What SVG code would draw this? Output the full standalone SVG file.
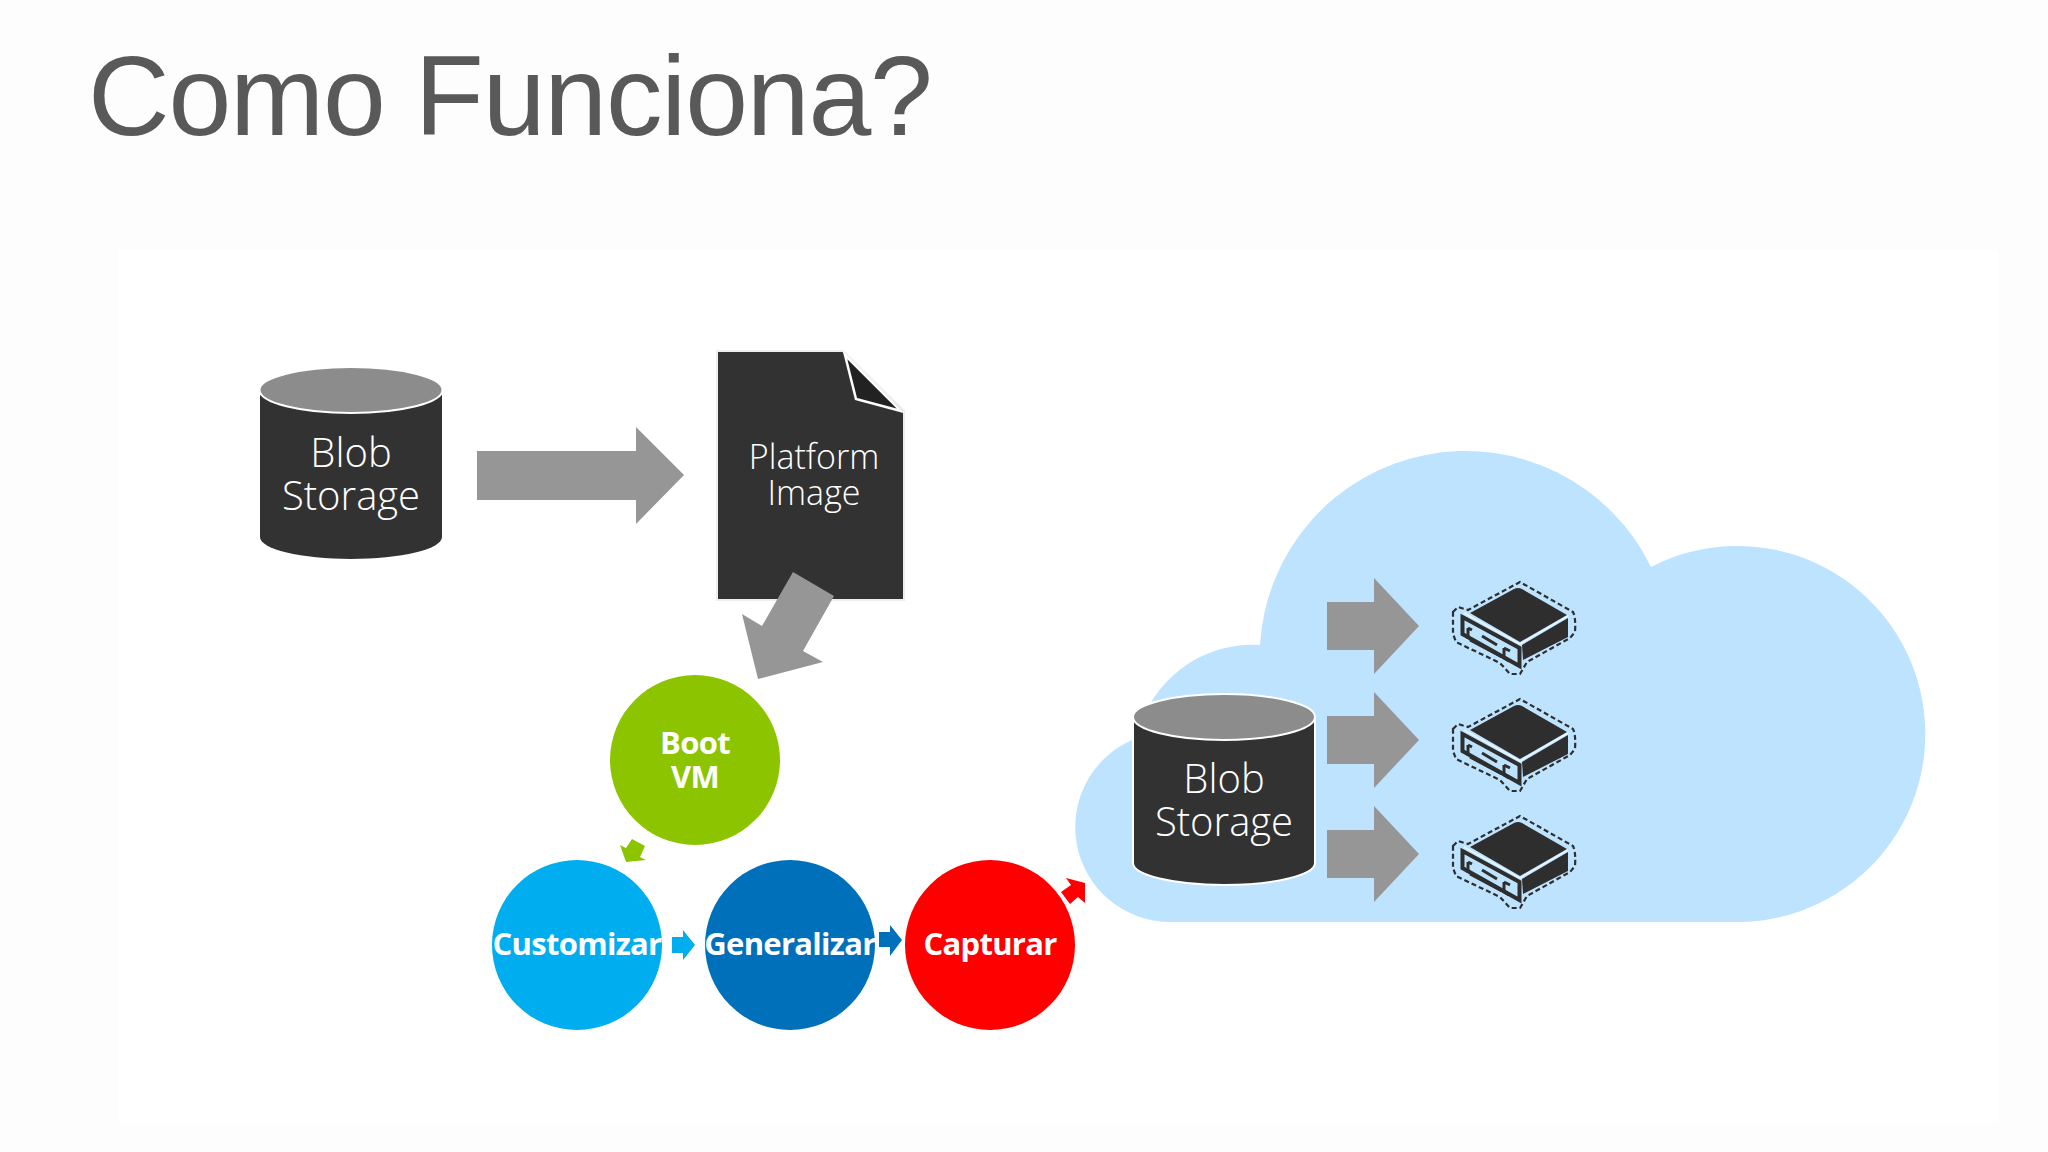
<svg xmlns="http://www.w3.org/2000/svg" width="2048" height="1152" viewBox="0 0 2048 1152">
<style>
.t{font-family:"Open Sans","Noto Sans",sans-serif;fill:#fff;text-anchor:middle}
.l{font-weight:300}
.b{font-weight:700;font-size:31px;letter-spacing:-.7px}
.body{fill:#323232}
.top{fill:#8c8c8c;stroke:#fff;stroke-width:2}
.ga{fill:#969696}
.sd{fill:#2e2e2e}
</style>
<defs>
<g id="server">
<path class="sd" d="M70 63L114 39Q118 37 122 39L167 65L120 92Z"/>
<path class="sd" d="M122 95L168 68V87L123 110Z"/>
<path d="M64 63L120 94L168 66" fill="none" stroke="#e8f6ff" stroke-width="1.6"/>
<path d="M62.500 67L119.500 98V116L62.500 84Z" fill="none" stroke="#2e2e2e" stroke-width="4"/>
<path d="M68 78V89M68 78L72 80M82 86L97 95M70 90L102 107M104 98V108L109 111M104 98L110 101" fill="none" stroke="#2e2e2e" stroke-width="3"/>
<path d="M53 62L58 57L68 60L120 32L173 62Q176 68 175 82L170 88L127 112L120 124H110L100 113L56 92L53 84Z" fill="none" stroke="#2e2e2e" stroke-width="2.200" stroke-dasharray="5 3"/>
</g>
</defs>
<rect width="2048" height="1152" fill="#fdfdfd"/>
<rect x="118" y="250" width="1880" height="873" fill="#fff"/>
<text x="88" y="135" font-family="Liberation Sans,Arial,sans-serif" font-size="113" letter-spacing="-1.200" fill="#595959">Como Funciona?</text>
<path id="cloud" d="M1170 922A95 95 0 0 1 1137 738A118 118 0 0 1 1260 645A206 206 0 0 1 1651 567A188 188 0 1 1 1736 922Z" fill="#bde3ff"/>
<g id="blob1">
<path class="body" d="M260 390V537A91 22 0 0 0 442 537V390Z"/>
<ellipse class="top" cx="351" cy="390" rx="91.500" ry="23"/>
<text class="t l" font-size="40" x="351" y="467">Blob<tspan x="351" dy="43">Storage</tspan></text>
</g>
<g id="platform-image">
<path d="M717 351H843L904 411V600H717Z" class="body" stroke="#eee" stroke-width="2"/>
<path d="M845 355L856 399L901 411Z" fill="#222" stroke="#fff" stroke-width="2.500"/>
<text class="t l" font-size="34" x="814" y="469">Platform<tspan x="814" dy="36">Image</tspan></text>
</g>
<g id="connectors">
<path class="ga" d="M477 451H636V427L684 475L636 524V500H477Z"/>
<path class="ga" d="M793 572L834 596L803 651L823 662L758 679L742 614L762 626Z"/>
<path fill="#8cc400" d="M632 839L645 846L640 857L646 860L626 862L620 845L626 848Z"/>
<path fill="#00adef" d="M672 937H683V930L695 945L683 960V953H672Z"/>
<path fill="#0070bb" d="M879 932H890V925L902 940L890 956V947H879Z"/>
<path fill="#f00" d="M1061 892L1071 885L1066 878L1085 883L1085 903L1078 897L1070 904Z"/>
<path class="ga" d="M1327 602H1374V578L1419 626L1374 674V650H1327Z"/>
<path class="ga" d="M1327 716H1374V692L1419 740L1374 788V764H1327Z"/>
<path class="ga" d="M1327 830H1374V806L1419 854L1374 902V878H1327Z"/>
</g>
<g id="boot-vm">
<circle cx="695" cy="760" r="85" fill="#8cc400"/>
<text class="t b" x="695" y="754">Boot<tspan x="695" dy="34">VM</tspan></text>
</g>
<g id="customizar">
<circle cx="577" cy="945" r="85" fill="#00adef"/>
<text class="t b" x="577" y="955">Customizar</text>
</g>
<g id="generalizar">
<circle cx="790" cy="945" r="85" fill="#0070bb"/>
<text class="t b" x="790" y="955">Generalizar</text>
</g>
<g id="capturar">
<circle cx="990" cy="945" r="85" fill="#f00"/>
<text class="t b" x="990" y="955">Capturar</text>
</g>
<g id="blob2">
<path class="body" stroke="#fff" stroke-width="2" d="M1133 717V863A91 22 0 0 0 1315 863V717Z"/>
<ellipse class="top" cx="1224" cy="717" rx="91" ry="23"/>
<text class="t l" font-size="40" x="1224" y="793">Blob<tspan x="1224" dy="43">Storage</tspan></text>
</g>
<g id="server1"><use href="#server" x="1400" y="550"/></g>
<g id="server2"><use href="#server" x="1400" y="667"/></g>
<g id="server3"><use href="#server" x="1400" y="784"/></g>
</svg>
